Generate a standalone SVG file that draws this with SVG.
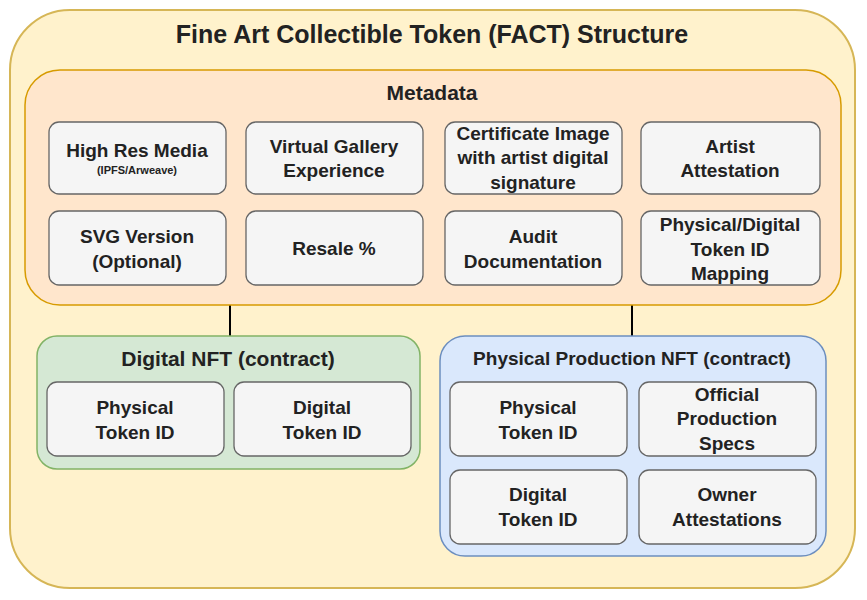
<svg xmlns="http://www.w3.org/2000/svg" width="867" height="600" viewBox="0 0 867 600">
<style>
text{font-family:"Liberation Sans",Arial,sans-serif;font-weight:bold;fill:#222;text-anchor:middle}
.b{fill:#f5f5f5;stroke:#666;stroke-width:1.3}
.t{font-size:19px}
.h{font-size:21px}
</style>
<rect width="867" height="600" fill="#fff"/>
<g id="fact"><rect x="10" y="10" width="845" height="578" rx="60" fill="#fff2cc" stroke="#d6b656" stroke-width="2"/>
<text x="432" y="43" font-size="25">Fine Art Collectible Token (FACT) Structure</text></g>
<g id="connectors" stroke="#000" stroke-width="2"><line x1="230" y1="305" x2="230" y2="336"/><line x1="632" y1="305" x2="632" y2="336"/></g>
<g id="metadata"><rect x="25" y="70" width="816" height="235" rx="35" fill="#ffe6cc" stroke="#d79b00" stroke-width="1.5"/>
<text x="432" y="100" class="h">Metadata</text></g>
<g id="m1"><rect class="b" x="49" y="122" width="177" height="72" rx="10"/><text class="t" x="137" y="157">High Res Media</text><text x="137" y="174" font-size="11">(IPFS/Arweave)</text></g>
<g id="m2"><rect class="b" x="246" y="122" width="177" height="72" rx="10"/><text class="t" x="334" y="153">Virtual Gallery</text><text class="t" x="334" y="177">Experience</text></g>
<g id="m3"><rect class="b" x="445" y="122" width="177" height="72" rx="10"/><text class="t" x="533" y="140">Certificate Image</text><text class="t" x="533" y="164">with artist digital</text><text class="t" x="533" y="189">signature</text></g>
<g id="m4"><rect class="b" x="641" y="122" width="179" height="72" rx="10"/><text class="t" x="730" y="153">Artist</text><text class="t" x="730" y="177">Attestation</text></g>
<g id="m5"><rect class="b" x="49" y="211" width="177" height="74" rx="10"/><text class="t" x="137" y="243">SVG Version</text><text class="t" x="137" y="268">(Optional)</text></g>
<g id="m6"><rect class="b" x="246" y="211" width="177" height="74" rx="10"/><text class="t" x="334" y="255">Resale %</text></g>
<g id="m7"><rect class="b" x="445" y="211" width="177" height="74" rx="10"/><text class="t" x="533" y="243">Audit</text><text class="t" x="533" y="268">Documentation</text></g>
<g id="m8"><rect class="b" x="641" y="211" width="179" height="74" rx="10"/><text class="t" x="730" y="231">Physical/Digital</text><text class="t" x="730" y="256">Token ID</text><text class="t" x="730" y="280">Mapping</text></g>
<g id="digital"><rect x="37" y="336" width="383" height="133" rx="20" fill="#d5e8d4" stroke="#82b366" stroke-width="1.5"/><text class="h" x="228" y="366">Digital NFT (contract)</text></g>
<g id="d1"><rect class="b" x="47" y="382" width="177" height="74" rx="10"/><text class="t" x="135" y="414">Physical</text><text class="t" x="135" y="439">Token ID</text></g>
<g id="d2"><rect class="b" x="234" y="382" width="177" height="74" rx="10"/><text class="t" x="322" y="414">Digital</text><text class="t" x="322" y="439">Token ID</text></g>
<g id="physical"><rect x="440" y="336" width="386" height="220" rx="25" fill="#dae8fc" stroke="#6c8ebf" stroke-width="1.5"/><text x="632" y="365" font-size="19">Physical Production NFT (contract)</text></g>
<g id="p1"><rect class="b" x="450" y="382" width="177" height="74" rx="10"/><text class="t" x="538" y="414">Physical</text><text class="t" x="538" y="439">Token ID</text></g>
<g id="p2"><rect class="b" x="639" y="382" width="177" height="74" rx="10"/><text class="t" x="727" y="401">Official</text><text class="t" x="727" y="425">Production</text><text class="t" x="727" y="450">Specs</text></g>
<g id="p3"><rect class="b" x="450" y="470" width="177" height="74" rx="10"/><text class="t" x="538" y="501">Digital</text><text class="t" x="538" y="526">Token ID</text></g>
<g id="p4"><rect class="b" x="639" y="470" width="177" height="74" rx="10"/><text class="t" x="727" y="501">Owner</text><text class="t" x="727" y="526">Attestations</text></g>
</svg>
